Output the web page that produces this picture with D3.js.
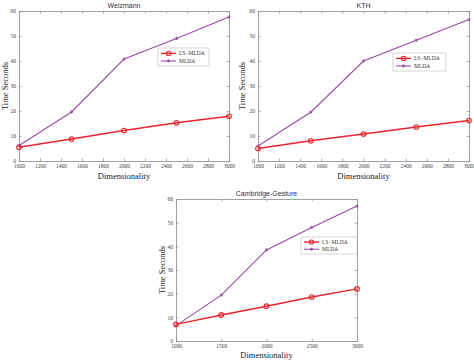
<!DOCTYPE html>
<html><head><meta charset="utf-8">
<script src="https://cdn.jsdelivr.net/npm/d3@7"></script>
<style>body{margin:0;background:#fff}svg{display:block}</style>
</head><body>
<svg id="c" width="474" height="360"></svg>
<script>
const dims = [1000, 1500, 2000, 2500, 3000];
const seriesNames = ["LS\u2212MLDA", "MLDA"];
const titles = ["Weizmann", "KTH", "Cambridge-Gesture"];
const weizLS = [5.5, 8.8, 12.2, 15.3, 17.9];
const weizMLDA = [6.2, 19.6, 40.8, 49.0, 57.6];
const kthLS = [5.0, 8.1, 10.8, 13.6, 16.2];
const kthMLDA = [6.0, 19.5, 40.0, 48.3, 56.6];
const camLS = [7.0, 11.0, 14.7, 18.6, 22.0];
const camMLDA = [6.5, 19.4, 38.5, 48.0, 57.0];
const xTicksFine = [1000,1200,1400,1600,1800,2000,2200,2400,2600,2800,3000];
const xTicksCoarse = [1000,1500,2000,2500,3000];
const yTicks = [0,10,20,30,40,50,60];

const panels = [
  {title: titles[0], ls: weizLS, ml: weizMLDA, xt: xTicksFine, box:[19,11,229,161], leg:[158,48,209,66], ylx:5, xly:176, ty:5},
  {title: titles[1], ls: kthLS, ml: kthMLDA, xt: xTicksFine, box:[258,11,469,161], leg:[393,53,446,71], ylx:242, xly:176, ty:5},
  {title: titles[2], ls: camLS, ml: camMLDA, xt: xTicksCoarse, box:[176,199,357,341], leg:[301,237,357,254], ylx:162, xly:355, ty:193}
];
const RED = "#e8242c", PURPLE = "#9a4aa6", AX = "#8a8a8a";
const svg = d3.select("#c");
const serif = "'Liberation Serif','Times New Roman',serif";
const sans = "'Liberation Sans',Arial,sans-serif";

panels.forEach(p => {
  const [x0,y0,x1,y1] = p.box;
  const x = d3.scaleLinear().domain([1000,3000]).range([x0,x1]);
  const y = d3.scaleLinear().domain([0,60]).range([y1,y0]);
  const g = svg.append("g");
  const tl = 2.5;
  const ax = d3.axisBottom(x).tickValues(p.xt).tickSize(-tl).tickPadding(3).tickFormat(d3.format("d"));
  const gx = g.append("g").attr("transform",`translate(0,${y1})`).call(ax);
  const gxt = g.append("g").attr("transform",`translate(0,${y0})`).call(d3.axisTop(x).tickValues(p.xt).tickSize(-tl).tickFormat(""));
  const ay = d3.axisLeft(y).tickValues(yTicks).tickSize(-tl).tickPadding(3);
  const gy = g.append("g").attr("transform",`translate(${x0},0)`).call(ay);
  const gyr = g.append("g").attr("transform",`translate(${x1},0)`).call(d3.axisRight(y).tickValues(yTicks).tickSize(-tl).tickFormat(""));
  [gx,gxt,gy,gyr].forEach(a => {
    a.selectAll("path.domain").attr("stroke",AX).attr("stroke-width",0.8);
    a.selectAll(".tick line").attr("stroke",AX).attr("stroke-width",0.7);
    a.selectAll("text").attr("fill","#444").style("font-family",serif).style("font-size","5.5px");
  });
  g.append("text").attr("x",(x0+x1)/2).attr("y",p.ty+2.5).attr("text-anchor","middle")
    .style("font-family",sans).style("font-size","7px").attr("fill","#333").text(p.title);
  g.append("text").attr("x",(x0+x1)/2).attr("y",p.xly+3).attr("text-anchor","middle")
    .style("font-family",serif).style("font-size","8.5px").attr("fill","#222").text("Dimensionality");
  g.append("text").attr("transform",`translate(${p.ylx+3},${(y0+y1)/2}) rotate(-90)`).attr("text-anchor","middle")
    .style("font-family",serif).style("font-size","8.5px").attr("fill","#222").text("Time Seconds");
  const line = d3.line().x((d,i)=>x(dims[i])).y(d=>y(d));
  g.append("path").datum(p.ml).attr("d",line).attr("fill","none").attr("stroke",PURPLE).attr("stroke-width",1.1);
  g.selectAll(".mlm").data(p.ml).enter().append("path")
    .attr("transform",(d,i)=>`translate(${x(dims[i])},${y(d)})`)
    .attr("d",d3.symbol(d3.symbolAsterisk,7)).attr("fill","none").attr("stroke",PURPLE).attr("stroke-width",0.9);
  g.append("path").datum(p.ls).attr("d",line).attr("fill","none").attr("stroke",RED).attr("stroke-width",1.4);
  g.selectAll(".lsm").data(p.ls).enter().append("circle")
    .attr("cx",(d,i)=>x(dims[i])).attr("cy",d=>y(d)).attr("r",2.3)
    .attr("fill","none").attr("stroke",RED).attr("stroke-width",1.1);
  const [lx0,ly0,lx1,ly1] = p.leg;
  g.append("rect").attr("x",lx0).attr("y",ly0).attr("width",lx1-lx0).attr("height",ly1-ly0)
    .attr("fill","#fff").attr("stroke","#bbb").attr("stroke-width",0.6);
  const rows = [{n:seriesNames[0],c:RED,m:"o"},{n:seriesNames[1],c:PURPLE,m:"*"}];
  rows.forEach((r,i)=>{
    const ry = ly0 + (ly1-ly0)*(i===0?0.3:0.72);
    g.append("line").attr("x1",lx0+3).attr("x2",lx0+18).attr("y1",ry).attr("y2",ry).attr("stroke",r.c).attr("stroke-width",i===0?1.4:1.1);
    if (r.m==="o") g.append("circle").attr("cx",lx0+10.5).attr("cy",ry).attr("r",2.1).attr("fill","none").attr("stroke",r.c).attr("stroke-width",1.1);
    else g.append("path").attr("transform",`translate(${lx0+10.5},${ry})`).attr("d",d3.symbol(d3.symbolAsterisk,7)).attr("fill","none").attr("stroke",r.c).attr("stroke-width",0.9);
    g.append("text").attr("x",lx0+21).attr("y",ry+2).style("font-family",serif).style("font-size","5.5px").attr("fill","#333").text(r.n);
  });
});
</script>
</body></html>
